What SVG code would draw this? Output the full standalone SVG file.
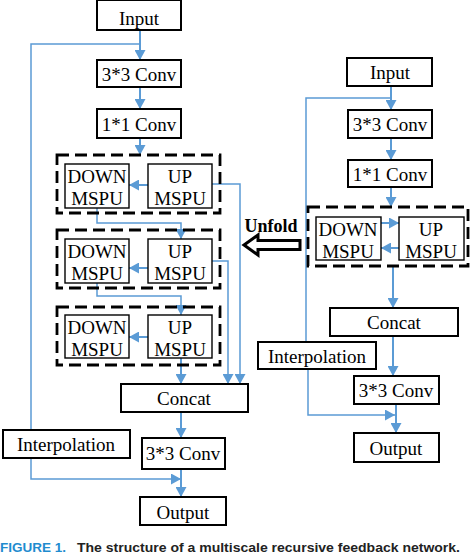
<svg xmlns="http://www.w3.org/2000/svg" width="474" height="556" viewBox="0 0 474 556">
<defs>
<marker id="ah" markerUnits="userSpaceOnUse" markerWidth="11" markerHeight="11" refX="10" refY="5.5" orient="auto">
<path d="M0,0 L10,5.5 L0,11 z" fill="#5b9bd5"/>
</marker>
<style>
.box{fill:#fff;stroke:#000;stroke-width:2}
.mspu{fill:#fff;stroke:#000;stroke-width:1.4}
.grp{fill:none;stroke:#000;stroke-width:2.8;stroke-dasharray:12,6}
.t{font-family:"Liberation Serif","Times New Roman",serif;font-size:19px;fill:#000;text-anchor:middle}
.c{fill:none;stroke:#5b9bd5;stroke-width:2}
.fb{fill:none;stroke:#5b9bd5;stroke-width:1.5}
.a{marker-end:url(#ah)}
</style>
</defs>
<rect width="474" height="556" fill="#fff"/>

<g id="connectors">
<path class="c a" d="M140,30 V60"/>
<path class="fb" d="M140,44 H31 V430"/>
<path class="c a" d="M140,87 V109"/>
<path class="c a" d="M140,138 V155"/>
<path class="c a" d="M148,185 H129"/>
<path class="fb a" d="M97,208 V223 H181 V239"/>
<path class="c a" d="M148,268 H129"/>
<path class="fb a" d="M97,283 V296 H181 V315"/>
<path class="c a" d="M148,337 H129"/>
<path class="c a" d="M181,358 V384"/>
<path class="fb a" d="M212,184 H240 V384"/>
<path class="fb a" d="M212,261 H228 V384"/>
<path class="c a" d="M181,412 V438"/>
<path class="fb a" d="M31,458 V479 H181"/>
<path class="c a" d="M181,468 V497"/>

<path class="c a" d="M391,86 V110"/>
<path class="fb" d="M391,98 H306 V342"/>
<path class="c a" d="M391,138 V160"/>
<path class="c a" d="M391,187 V207"/>
<path class="c a" d="M381,223 H399"/>
<path class="c a" d="M399,248 H381"/>
<path class="c a" d="M393,266 V308"/>
<path class="c a" d="M393,336 V376"/>
<path class="fb a" d="M308,369 V415 H395"/>
<path class="c a" d="M396,404 V433"/>
</g>

<g id="L-input"><rect class="box" x="97" y="0" width="84" height="30"/><text class="t" x="139" y="25">Input</text></g>
<g id="L-conv33"><rect class="box" x="97" y="60" width="84" height="27"/><text class="t" x="139" y="81">3*3 Conv</text></g>
<g id="L-conv11"><rect class="box" x="97" y="109" width="84" height="29"/><text class="t" x="139" y="131">1*1 Conv</text></g>

<g id="L-group1">
<rect class="grp" x="57" y="155" width="163" height="58"/>
<rect class="mspu" x="65" y="164" width="64" height="44"/>
<text class="t" x="97" y="183">DOWN</text><text class="t" x="97" y="205">MSPU</text>
<rect class="mspu" x="148" y="164" width="64" height="44"/>
<text class="t" x="180" y="183">UP</text><text class="t" x="180" y="205">MSPU</text>
</g>
<g id="L-group2">
<rect class="grp" x="57" y="230" width="163" height="58"/>
<rect class="mspu" x="65" y="239" width="64" height="44"/>
<text class="t" x="97" y="258">DOWN</text><text class="t" x="97" y="280">MSPU</text>
<rect class="mspu" x="148" y="239" width="64" height="44"/>
<text class="t" x="180" y="258">UP</text><text class="t" x="180" y="280">MSPU</text>
</g>
<g id="L-group3">
<rect class="grp" x="57" y="307" width="163" height="58"/>
<rect class="mspu" x="65" y="315" width="64" height="43"/>
<text class="t" x="97" y="334">DOWN</text><text class="t" x="97" y="356">MSPU</text>
<rect class="mspu" x="148" y="315" width="64" height="43"/>
<text class="t" x="180" y="334">UP</text><text class="t" x="180" y="356">MSPU</text>
</g>

<g id="L-concat"><rect class="box" x="121" y="384" width="127" height="28"/><text class="t" x="184" y="405">Concat</text></g>
<g id="L-interp"><rect class="box" x="3" y="430" width="127" height="28"/><text class="t" x="66" y="451">Interpolation</text></g>
<g id="L-conv33b"><rect class="box" x="142" y="438" width="83" height="31"/><text class="t" x="183" y="460">3*3 Conv</text></g>
<g id="L-output"><rect class="box" x="140" y="497" width="86" height="28"/><text class="t" x="183" y="519">Output</text></g>

<g id="unfold">
<text x="271" y="232" font-family="'Liberation Serif','Times New Roman',serif" font-size="18" font-weight="bold" text-anchor="middle">Unfold</text>
<polygon points="244,245 258,235 258,240.5 300,240.5 300,249.5 258,249.5 258,255" fill="#fff" stroke="#000" stroke-width="3" stroke-linejoin="miter"/>
</g>

<g id="R-input"><rect class="box" x="347" y="58" width="85" height="28"/><text class="t" x="390" y="79">Input</text></g>
<g id="R-conv33"><rect class="box" x="348" y="110" width="84" height="28"/><text class="t" x="390" y="131">3*3 Conv</text></g>
<g id="R-conv11"><rect class="box" x="348" y="160" width="84" height="27"/><text class="t" x="390" y="181">1*1 Conv</text></g>
<g id="R-group">
<rect class="grp" x="308" y="207" width="160" height="59"/>
<rect class="mspu" x="316" y="217" width="65" height="43"/>
<text class="t" x="348" y="236">DOWN</text><text class="t" x="348" y="258">MSPU</text>
<rect class="mspu" x="399" y="217" width="65" height="43"/>
<text class="t" x="431" y="236">UP</text><text class="t" x="431" y="258">MSPU</text>
</g>
<g id="R-concat"><rect class="box" x="330" y="308" width="128" height="28"/><text class="t" x="394" y="329">Concat</text></g>
<g id="R-interp"><rect class="box" x="258" y="342" width="118" height="27"/><text class="t" x="317" y="363">Interpolation</text></g>
<g id="R-conv33b"><rect class="box" x="354" y="376" width="85" height="28"/><text class="t" x="396" y="397">3*3 Conv</text></g>
<g id="R-output"><rect class="box" x="354" y="433" width="85" height="29"/><text class="t" x="396" y="455">Output</text></g>

<g id="caption" font-family="'Liberation Sans',Arial,sans-serif" font-size="13" font-weight="bold">
<text x="0" y="552" fill="#1f8ccf" textLength="66" lengthAdjust="spacingAndGlyphs">FIGURE 1.</text>
<text x="77" y="552" fill="#222" textLength="383" lengthAdjust="spacingAndGlyphs">The structure of a multiscale recursive feedback network.</text>
</g>
</svg>
